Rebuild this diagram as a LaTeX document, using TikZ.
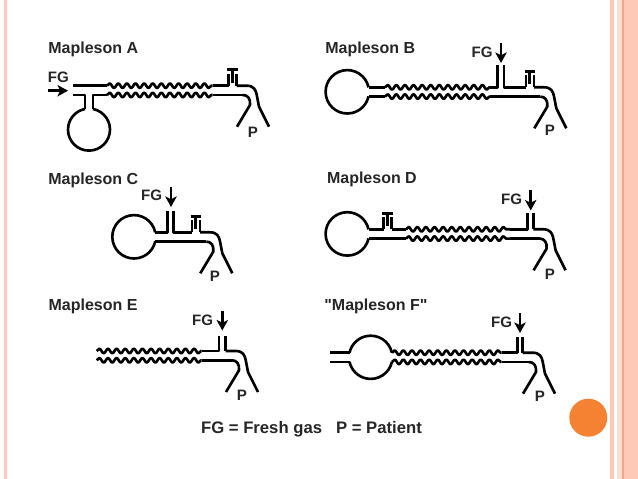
\documentclass[tikz,border=0pt]{standalone}
\usepackage{fontspec}
\setmainfont{Liberation Sans}[Ligatures=TeXOff]
\usetikzlibrary{decorations.pathmorphing,arrows.meta}
\definecolor{bandpink}{HTML}{FFC9B8}
\definecolor{bandline}{HTML}{F7A77F}
\definecolor{dotorange}{HTML}{F58233}
\definecolor{inkgrey}{HTML}{262626}
\tikzset{
  tube/.style={line width=1.5pt,black,line join=round},
  wavy/.style={tube,decorate,decoration={snake,amplitude=1.3pt,segment length=4.9pt}},
  fgarrow/.style={line width=1.5pt,black,-{Stealth[length=6pt,width=6.5pt,inset=1.6pt]}},
  heading/.style={anchor=west,inner sep=0pt,text=inkgrey,font=\fontsize{9.1}{10}\selectfont\bfseries},
  label/.style={inner sep=0pt,text=inkgrey,font=\fontsize{8.6}{10}\selectfont\bfseries},
  legend/.style={anchor=base west,inner sep=0pt,text=inkgrey,font=\fontsize{9.5}{11}\selectfont\bfseries},
  patientend/.pic={
    \draw[tube] (0,0) -- (10,0) .. controls (17,0) and (19,4) .. (20,9) -- (22.3,21) -- (32.3,41);
    \draw[tube] (6.3,9.3) .. controls (11,9.3) and (14,13) .. (13.3,19.3) -- (0.3,41);
  },
  valve/.pic={
    \draw[tube] (-8,0) -- (-8,-12);
    \draw[tube] (0,0) -- (0,-12);
    \draw[tube] (-9.5,-16) -- (1.3,-16);
    \draw[tube] (-4.5,-16) -- (-4.5,-3);
  },
  bag/.pic={
    \draw[tube] (-12:21.7) arc[start angle=-12,end angle=-348,radius=21.7];
  }
}
\begin{document}
\begin{tikzpicture}[x=0.02cm,y=-0.02cm]
\useasboundingbox (0,0) rectangle (638,479);
% slide border
\fill[bandpink] (3.5,0) rectangle (7,479);
\fill[bandpink] (610,0) rectangle (614,479);
\fill[bandpink!60] (617,0) rectangle (622,479);
\fill[bandline] (622,0) rectangle (623.5,479);
\fill[bandpink] (623.5,0) rectangle (638,479);
\fill[dotorange] (588.3,417.7) circle (19);

% Mapleson A
\node[heading] (titleA) at (48,49) {Mapleson A};
\node[label,anchor=west] (fgA) at (47.5,77) {FG};
\coordinate (fgstartA) at (47.5,90.7);
\coordinate (fgendA) at (68,90.7);
\draw[fgarrow] (fgstartA) -- (fgendA);
\draw[tube] (72.7,85.7) -- (107,85.7);
\draw[wavy] (107,85.7) -- (212.7,85.7);
\draw[tube] (212.7,85.7) -- (228.7,85.7);
\pic at (236.7,85.7) {valve};
\pic at (236.7,85.7) {patientend};
\draw[tube] (72.7,95) -- (85,95) -- (85,109);
\draw[tube] (93,109) -- (93,95) -- (107,95);
\draw[wavy] (107,95) -- (212.7,95);
\draw[tube] (212.7,95) -- (243,95);
\draw[tube] (93,109) arc[start angle=-79,end angle=259,radius=21];
\node[label] (pA) at (253,132.7) {P};

% Mapleson B
\node[heading] (titleB) at (325,49) {Mapleson B};
\node[label] (fgB) at (482,52) {FG};
\coordinate (fgstartB) at (501,43);
\coordinate (fgendB) at (501,63);
\draw[fgarrow] (fgstartB) -- (fgendB);
\pic at (347.3,91.8) {bag};
\draw[tube] (368.5,87.3) -- (385,87.3);
\draw[wavy] (385,87.3) -- (490,87.3);
\draw[tube] (490,87.3) -- (497.3,87.3) -- (497.3,65);
\draw[tube] (504,65) -- (504,87.3) -- (526,87.3);
\pic at (534,87.3) {valve};
\pic at (534,87.3) {patientend};
\draw[tube] (368.5,96.6) -- (385,96.6);
\draw[wavy] (385,96.6) -- (490,96.6);
\draw[tube] (490,96.6) -- (540.3,96.6);
\node[label] (pB) at (550,130) {P};

% Mapleson C
\node[heading] (titleC) at (48,180.7) {Mapleson C};
\node[label] (fgC) at (151.7,195.7) {FG};
\coordinate (fgstartC) at (171,186.7);
\coordinate (fgendC) at (171,207);
\draw[fgarrow] (fgstartC) -- (fgendC);
\pic at (134,236.8) {bag};
\draw[tube] (155.2,232.3) -- (167.7,232.3) -- (167.7,210.7);
\draw[tube] (173.3,210.7) -- (173.3,232.3) -- (192,232.3);
\pic at (200,232.3) {valve};
\pic at (200,232.3) {patientend};
\draw[tube] (155.2,241.6) -- (206.3,241.6);
\node[label] (pC) at (215,276.7) {P};

% Mapleson D
\node[heading] (titleD) at (326.7,179) {Mapleson D};
\node[label] (fgD) at (511.7,199) {FG};
\coordinate (fgstartD) at (530.7,190);
\coordinate (fgendD) at (530.7,210.5);
\draw[fgarrow] (fgstartD) -- (fgendD);
\pic at (347.3,233.9) {bag};
\draw[tube] (368.5,229.3) -- (383.7,229.3);
\pic at (391.7,229.3) {valve};
\draw[tube] (391.7,229.3) -- (406,229.3);
\draw[wavy] (406,229.3) -- (510,229.3);
\draw[tube] (510,229.3) -- (527.7,229.3) -- (527.7,213.3);
\draw[tube] (533.3,213.3) -- (533.3,229.3);
\pic at (533.3,229.3) {patientend};
\draw[tube] (368.5,238.6) -- (406,238.6);
\draw[wavy] (406,238.6) -- (510,238.6);
\draw[tube] (510,238.6) -- (539.6,238.6);
\node[label] (pD) at (550,274.3) {P};

% Mapleson E
\node[heading] (titleE) at (48.3,306) {Mapleson E};
\node[label] (fgE) at (202.7,320) {FG};
\coordinate (fgstartE) at (222.3,310.7);
\coordinate (fgendE) at (222.3,330.5);
\draw[fgarrow] (fgstartE) -- (fgendE);
\draw[wavy] (96.7,351) -- (201.7,351);
\draw[tube] (201.7,351) -- (219,351) -- (219,336);
\draw[tube] (225.7,336) -- (225.7,351);
\pic at (225.7,351) {patientend};
\draw[wavy] (96.7,360.3) -- (201.7,360.3);
\draw[tube] (201.7,360.3) -- (232,360.3);
\node[label] (pE) at (242,395) {P};

% Mapleson F
\node[heading] (titleF) at (324,306) {"Mapleson F"};
\node[label] (fgF) at (501.7,322.7) {FG};
\coordinate (fgstartF) at (520,313.3);
\coordinate (fgendF) at (520,333);
\draw[fgarrow] (fgstartF) -- (fgendF);
\draw[tube] (391.9,352.7) arc[start angle=-12.5,end angle=-167.5,radius=21.7];
\draw[tube] (391.9,361.9) arc[start angle=12.5,end angle=167.5,radius=21.7];
\draw[tube] (330,352.7) -- (349.5,352.7);
\draw[tube] (330,361.9) -- (349.5,361.9);
\draw[wavy] (392,352.7) -- (501.7,352.7);
\draw[tube] (501.7,352.7) -- (517.3,352.7) -- (517.3,337.3);
\draw[tube] (522.7,337.3) -- (522.7,352.7);
\pic at (522.7,352.7) {patientend};
\draw[wavy] (392,361.9) -- (501.7,361.9);
\draw[tube] (501.7,361.9) -- (529,361.9);
\node[label] (pF) at (540,396) {P};

% legend
\node[legend] (legendFG) at (200.7,433) {FG = Fresh gas};
\node[legend] (legendP) at (335.7,433) {P = Patient};
\end{tikzpicture}
\end{document}
